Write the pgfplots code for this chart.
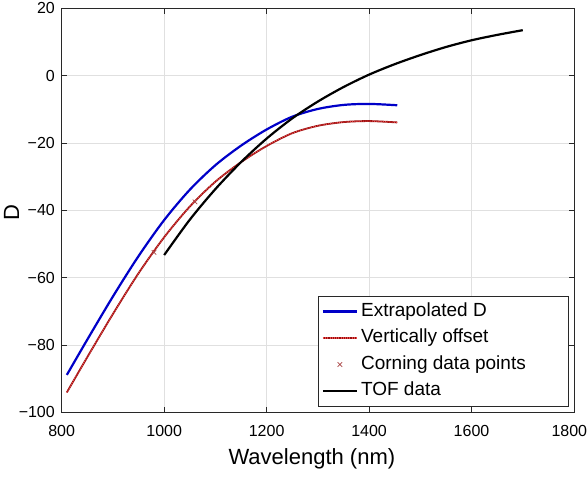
\documentclass[border=0pt]{standalone}
\usepackage{fontspec}
\setmainfont{Liberation Sans}
\usepackage{pgfplots}
\pgfplotsset{compat=1.18}

\definecolor{extblue}{RGB}{0,0,200}
\definecolor{offred}{RGB}{150,15,15}
\definecolor{offdot}{RGB}{235,75,75}
\definecolor{corning}{RGB}{170,70,70}
\definecolor{axisgray}{RGB}{40,40,40}

\begin{document}
\begin{tikzpicture}
\begin{axis}[
    name=ax,
    scale only axis,
    width=512.3pt,
    height=404pt,
    xmin=800, xmax=1800,
    ymin=-100, ymax=20,
    xtick={800,1000,1200,1400,1600,1800},
    xticklabels={800,1000,1200,1400,1600,{\kern-9.4pt1800}},
    ytick={-100,-80,-60,-40,-20,0,20},
    yticklabels={−100,−80,−60,−40,−20,0,20},
    tick align=inside,
    major tick length=5.5pt,
    axis line style={axisgray, line width=0.9pt},
    tick style={axisgray, line width=0.8pt},
    grid=major,
    major grid style={black!12, line width=0.7pt},
    tick label style={font=\fontsize{16}{19}\selectfont},
    xticklabel style={inner sep=0pt, yshift=-12.5pt},
    yticklabel style={inner sep=0pt, xshift=-6.7pt},
    xlabel={Wavelength (nm)},
    ylabel={D},
    label style={font=\fontsize{22}{26}\selectfont},
    xlabel style={at={(axis description cs:0.5,0)}, anchor=north, inner sep=0pt, yshift=-36pt, xshift=-6pt},
    ylabel style={at={(axis description cs:-0.098,0.4946)}, anchor=center, inner sep=0pt},
    legend cell align=left,
    legend style={at={(axis description cs:1,0)}, anchor=south east,
        xshift=-4.7pt, yshift=5.6pt,
        font=\fontsize{19}{23}\selectfont,
        draw=axisgray, line width=0.9pt, fill=white,
        inner xsep=3pt, inner ysep=2pt, row sep=0pt,
        nodes={text height=14pt, text depth=4.5pt, inner ysep=4pt, inner xsep=3pt}},
    legend image code/.code={\draw[#1, mark repeat=2, mark phase=2] plot coordinates {(0pt,0pt) (17pt,0pt) (34pt,0pt)};},
]
% extrapolated D
\addplot[extblue, line width=2.2pt, smooth] coordinates {
    (810,-88.9) (850,-78.4) (900,-65.6) (950,-53.6) (1000,-42.9)
    (1050,-33.9) (1100,-26.6) (1150,-20.8) (1200,-16.0) (1250,-12.2)
    (1300,-9.9) (1350,-8.7) (1400,-8.4) (1455,-8.8)
};
\addlegendentry{Extrapolated D}

% vertically offset curve
\addplot[offred, line width=1.8pt, smooth,
    legend image code/.code={\draw[offred, line width=1.8pt] (0pt,0pt) -- (34pt,0pt);
        \draw[offdot, line width=1.1pt, dash pattern=on 1pt off 1.2pt] (0pt,0pt) -- (34pt,0pt);}]
    coordinates {
    (810,-94.1) (850,-83.6) (900,-70.8) (950,-58.7) (1000,-48.0)
    (1050,-38.9) (1100,-31.5) (1150,-25.7) (1200,-20.9) (1250,-17.1)
    (1300,-14.9) (1350,-13.8) (1400,-13.5) (1455,-13.9)
};
\addlegendentry{Vertically offset}
\addplot[offdot, line width=1.1pt, smooth, dash pattern=on 1pt off 1.2pt, forget plot] coordinates {
    (810,-94.1) (850,-83.6) (900,-70.8) (950,-58.7) (1000,-48.0)
    (1050,-38.9) (1100,-31.5) (1150,-25.7) (1200,-20.9) (1250,-17.1)
    (1300,-14.9) (1350,-13.8) (1400,-13.5) (1455,-13.9)
};

% corning points
\addplot[corning, only marks, mark=x, mark size=3.2pt, line width=0.7pt] coordinates {
    (980,-52.5) (1060,-37.5)
};
\addlegendentry{Corning data points\hspace*{37pt}}

% TOF
\addplot[black, line width=2.2pt, smooth] coordinates {
    (1000,-53.3) (1050,-42.8) (1100,-33.7) (1150,-25.7) (1200,-18.7)
    (1250,-12.7) (1300,-7.7) (1350,-3.4) (1400,0.3) (1450,3.4)
    (1500,6.1) (1550,8.5) (1600,10.5) (1650,12.1) (1700,13.5)
};
\addlegendentry{TOF data}
\end{axis}
\pgfresetboundingbox
\path[use as bounding box] (ax.south west) ++(-61.7pt,-64.7pt) rectangle ++(588pt,477pt);
\end{tikzpicture}
\end{document}
